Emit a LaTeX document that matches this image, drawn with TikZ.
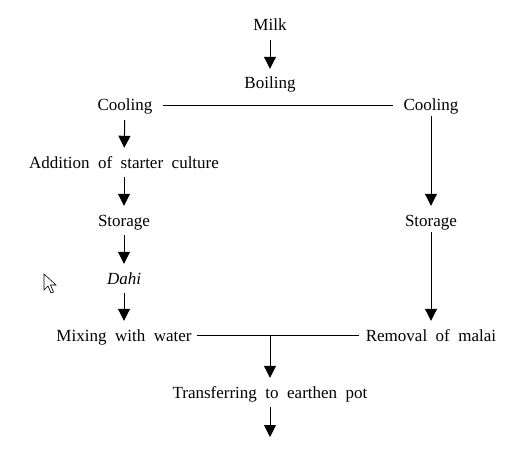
\documentclass[tikz,border=0pt]{standalone}
\usepackage{fontspec}
\setmainfont[WordSpace=2]{Liberation Serif}
\usepackage{tikz}
\usetikzlibrary{positioning,arrows.meta,calc}
\tikzset{
    x=1pt,
    y=-1pt,
    stage/.style = {
        anchor=base,
        inner xsep=0pt,
        inner ysep=0pt,
        text height=12pt,
        text depth=0pt,
        font=\fontsize{17}{20}\selectfont
    },
    flow/.style = {
        draw,
        line width=1pt,
        shorten <=9pt,
        shorten >=8pt
    },
    link/.style = {
        draw,
        line width=0.9pt
    },
    >={Triangle[width=12pt,length=12pt]},
}
\begin{document}
\begin{tikzpicture}
            \useasboundingbox (0,0) rectangle (515,460);

            \node[stage] (milk) at (270,31) {Milk};
            \node[stage] (boiling) at (270,89) {Boiling};
            \node[stage] (coolL) at (125,111) {Cooling};
            \node[stage] (coolR) at (431,111) {Cooling};
            \node[stage] (starter) at (124,168) {Addition of starter culture};
            \node[stage] (storeL) at (124,226) {Storage};
            \node[stage] (storeR) at (431,226) {Storage};
            \node[stage] (dahi) at (124,284) {\itshape Dahi};
            \node[stage] (mixing) at (124,341) {Mixing with water};
            \node[stage] (malai) at (431,341) {Removal of malai};
            \node[stage] (earthen) at (270,398) {Transferring to earthen pot};
            \coordinate (join) at (270,336);
            \coordinate (out) at (270,437);

            \path[flow, ->] (milk) -- (boiling);
            \path[link, shorten <=10pt, shorten >=10pt] (coolL.east) -- (coolR.west);

            \path[flow, ->] (coolL) -- (starter);
            \path[flow, ->] (starter) -- (storeL);
            \path[flow, ->] (storeL) -- (dahi);
            \path[flow, ->] (dahi) -- (mixing);

            \path[flow, ->, shorten <=5pt] (coolR) -- (storeR);
            \path[flow, ->, shorten <=6pt] (storeR) -- (malai);

            \path[link, shorten <=5pt, shorten >=7pt] (mixing.east) -- (malai.west);
            \path[flow, ->, shorten <=0pt] (join) -- (earthen);
            \path[flow, ->, shorten >=0pt] (earthen) -- (out);

            \path[draw, line width=0.6pt, fill=white] (44,274) -- (44,290) -- (48,286) -- (51,293) -- (53.5,292) -- (50.5,285) -- (56,285) -- cycle;

        \end{tikzpicture}
\end{document}
